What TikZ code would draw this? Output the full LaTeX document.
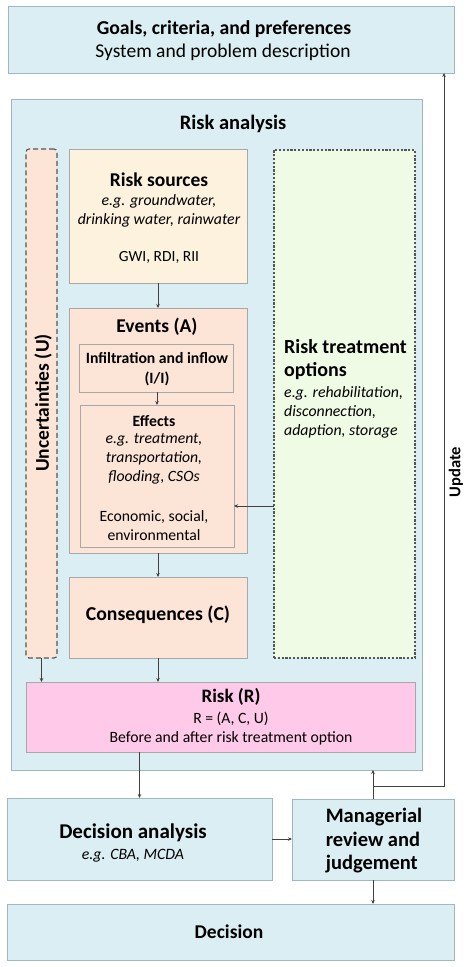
\documentclass[tikz,border=0pt]{standalone}
\usepackage{fontspec}
\setmainfont{Carlito}
\usetikzlibrary{arrows.meta}
\definecolor{lblue}{HTML}{DAEEF3}
\definecolor{bblue}{HTML}{9FB7BE}
\definecolor{cream}{HTML}{FDF2DE}
\definecolor{peach}{HTML}{FCE4D6}
\definecolor{lgreen}{HTML}{F0FBE6}
\definecolor{pink}{HTML}{FFC9E9}
\definecolor{bgray}{HTML}{A8A8A8}
\definecolor{dgray}{HTML}{555555}
\definecolor{agray}{HTML}{404040}
\tikzset{
  boxbase/.style={anchor=north west, inner sep=0pt, outer sep=0pt, line width=0.9pt},
  bluebox/.style={boxbase, draw=bblue, fill=lblue},
  creambox/.style={boxbase, draw=bgray, fill=cream},
  peachbox/.style={boxbase, draw=bgray, fill=peach},
  pinkbox/.style={boxbase, draw=bgray, fill=pink},
  uncbox/.style={boxbase, draw=dgray, fill=peach, dash pattern=on 5pt off 3pt, line width=1.1pt, rounded corners=3pt},
  treatbox/.style={boxbase, draw=dgray, fill=lgreen, dash pattern=on 2.2pt off 1.6pt, line width=1.1pt},
  arr/.style={draw=agray, line width=0.8pt, -{Stealth[length=4pt,width=3.5pt]}},
  txt/.style={inner sep=0pt, align=center, text=black},
}
\newcommand{\bx}[6]{\node[#6, minimum width={#4pt-#2pt}, minimum height={#5pt-#3pt}] (#1) at (#2,#3) {};}
\begin{document}
\begin{tikzpicture}[x=1pt,y=-1pt]
\useasboundingbox (0,0) rectangle (474,967);
% boxes
\bx{goals}{8}{6}{454}{73}{bluebox}
\bx{ra}{11}{99}{422}{770}{bluebox}
\bx{unc}{26}{149}{57}{658}{uncbox}
\bx{rs}{69}{149}{247}{283}{creambox}
\bx{ev}{69}{308}{247}{553}{peachbox}
\bx{inf}{79}{344}{233}{392}{peachbox}
\bx{eff}{80}{405}{234}{547}{peachbox}
\bx{cons}{69}{577}{247}{658}{peachbox}
\bx{treat}{274}{150}{415}{658}{treatbox}
\bx{risk}{26}{682}{415}{752}{pinkbox}
\bx{da}{7}{798}{272}{880}{bluebox}
\bx{mgr}{292}{799}{454}{880}{bluebox}
\bx{dec}{7}{904}{454}{960}{bluebox}
% texts
\node[txt, font=\fontsize{19.7}{23}\selectfont\bfseries] (tg1) at (224,29) {Goals, criteria, and preferences};
\node[txt, font=\fontsize{19.5}{23}\selectfont] (tg2) at (223,52) {System and problem description};
\node[txt, font=\fontsize{20.5}{23}\selectfont\bfseries] (tra) at (233,124) {Risk analysis};
\node[txt, font=\fontsize{19.5}{23}\selectfont\bfseries] (trs1) at (159,180) {Risk sources};
\node[txt, font=\fontsize{15.8}{19}\selectfont\itshape] (trs2) at (159,210.5) {e.g. groundwater,\\drinking water, rainwater};
\node[txt, font=\fontsize{15.5}{19}\selectfont] (trs3) at (159,257) {GWI, RDI, RII};
\node[txt, font=\fontsize{19.5}{23}\selectfont\bfseries] (tev) at (157,327) {Events (A)};
\node[txt, font=\fontsize{15.7}{20}\selectfont\bfseries] (tinf) at (157,369) {Infiltration and inflow\\(I/I)};
\node[txt, font=\fontsize{15.7}{19}\selectfont\bfseries] (teff1) at (154,421) {Effects};
\node[txt, font=\fontsize{15.7}{19}\selectfont\itshape] (teff2) at (154,459) {e.g. treatment,\\transportation,\\flooding, CSOs};
\node[txt, font=\fontsize{15.7}{19}\selectfont] (teff3) at (154,525.5) {Economic, social,\\environmental};
\node[txt, font=\fontsize{19.7}{23}\selectfont\bfseries] (tcons) at (158,615) {Consequences (C)};
\node[txt, font=\fontsize{19.5}{23}\selectfont\bfseries, rotate=90] (tunc) at (43,403) {Uncertainties (U)};
\node[txt, align=left, anchor=west, font=\fontsize{20}{23}\selectfont\bfseries] (ttr1) at (284,359.5) {Risk treatment\\options};
\node[txt, align=left, anchor=west, font=\fontsize{15.8}{19}\selectfont\itshape] (ttr2) at (284,412) {e.g. rehabilitation,\\disconnection,\\adaption, storage};
\node[txt, font=\fontsize{19}{23}\selectfont\bfseries] (trk1) at (231,697) {Risk (R)};
\node[txt, font=\fontsize{15.7}{19}\selectfont] (trk2) at (231,728.5) {R = (A, C, U)\\Before and after risk treatment option};
\node[txt, font=\fontsize{21}{23}\selectfont\bfseries] (tda1) at (133,833) {Decision analysis};
\node[txt, font=\fontsize{15.8}{19}\selectfont\itshape] (tda2) at (133,856) {e.g. CBA, MCDA};
\node[txt, align=left, font=\fontsize{20.5}{23.5}\selectfont\bfseries] (tmgr) at (374,841) {Managerial\\review and\\judgement};
\node[txt, font=\fontsize{19.5}{23}\selectfont\bfseries] (tdec) at (229,932) {Decision};
\node[txt, font=\fontsize{16.5}{19}\selectfont\bfseries, rotate=90] (tup) at (456,472) {Update};
% connectors
\draw[arr] (rs.south) -- (ev.north);
\draw[arr] (inf.south -| eff.north) -- (eff.north);
\coordinate (trin) at (274,506);
\draw[arr] (trin) -- (trin -| eff.east);
\draw[arr] (ev.south) -- (cons.north);
\draw[arr] (unc.south) -- (unc.south |- risk.north);
\draw[arr] (cons.south) -- (cons.south |- risk.north);
\draw[arr] (risk.south -| da.north) -- (da.north);
\draw[arr] (da.east) -- (da.east -| mgr.west);
\draw[arr] (mgr.south) -- (mgr.south |- dec.north);
\draw[arr] (mgr.north) -- (mgr.north |- ra.south);
\coordinate (upj) at (373,786);
\coordinate (upc) at (444,786);
\draw[arr] (upj) -- (upc) -- (upc |- goals.south);
\end{tikzpicture}
\end{document}
